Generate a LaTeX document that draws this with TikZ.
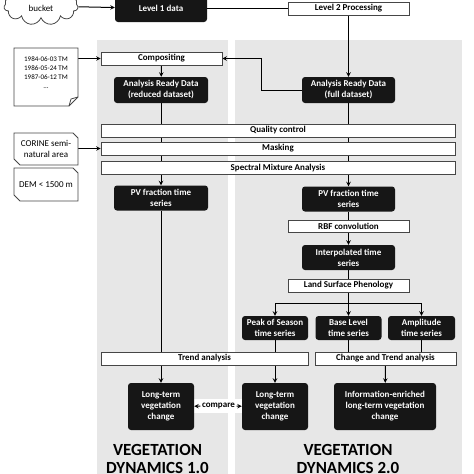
\documentclass[tikz,border=0pt]{standalone}
\usepackage{fontspec}
\setmainfont{Carlito}
\definecolor{panel}{RGB}{231,231,231}
\definecolor{boxblack}{RGB}{22,22,22}
\definecolor{edge}{RGB}{70,70,70}
\usetikzlibrary{shapes.symbols}
\usetikzlibrary{arrows.meta}
\pgfdeclarelayer{ln}
\pgfdeclarelayer{bg}
\pgfsetlayers{bg,ln,main}
\tikzset{
    darkbox/.style={fill=boxblack,rounded corners=3pt,text=white,align=center,
        inner sep=0pt,font=\fontsize{9}{11}\selectfont\bfseries},
    barbox/.style={draw=edge,fill=white,line width=0.7pt,inner sep=0pt,
        minimum height=13pt,font=\fontsize{9}{11}\selectfont\bfseries},
    card/.style={draw=edge,fill=white,line width=0.8pt},
    flow/.style={line width=1pt,-stealth},
    link/.style={line width=1pt}
}

\begin{document}
\begin{tikzpicture}[x=1pt,y=-1pt]
	\useasboundingbox (0,0) rectangle (474,474);
	\clip (0,0) rectangle (474,474);
	
	\begin{pgfonlayer}{bg}
		\fill[panel] (97,40) rectangle (228,480);
		\fill[panel] (235,40) rectangle (462,480);
	\end{pgfonlayer}
	
	% inputs
	\node[cloud,cloud puffs=11,cloud ignores aspect,draw=edge,line width=0.8pt,fill=white,
		minimum width=74pt,minimum height=38pt,font=\fontsize{9}{11}\selectfont] 
			(bucket) at (41,6) {};
	\node[font=\fontsize{9}{11}\selectfont] (buckettxt) at (41,8.5) {bucket};
	\node[darkbox,minimum width=92pt,minimum height=27pt] (lvlone) at (161,8.5) {Level 1 data};
	\node[barbox,minimum width=121pt] (lvltwo) at (348.5,8.5) {Level 2 Processing};
	
	\draw[card] (14,48) -- (78,48) -- (78,97) -- (69,106) -- (14,106) -- cycle;
	\draw[card,fill=none] (78,97) -- (71,99) -- (69,106);
	\node[align=center,font=\fontsize{7}{9}\selectfont,minimum width=64pt,inner sep=0pt] 
			(docs) at (46,73) {1984-06-03 TM\\1986-05-24 TM\\1987-06-12 TM\\\ldots};
	
	\draw[card] (14,133) -- (73,133) -- (78,138) -- (78,165) -- (20,165) -- (14,159) -- cycle;
	\node[align=center,font=\fontsize{9}{11}\selectfont,minimum width=64pt,inner sep=0pt] 
			(corine) at (46,149) {CORINE semi-\\natural area};
	\draw[card] (14,168) -- (73,168) -- (78,173) -- (78,201) -- (20,201) -- (14,195) -- cycle;
	\node[align=center,font=\fontsize{9}{11}\selectfont,minimum width=64pt,inner sep=0pt] 
			(dem) at (46,184.5) {DEM < 1500 m};
	
	% preprocessing
	\node[barbox,minimum width=121pt] (compo) at (161.5,58.5) {Compositing};
	\node[darkbox,minimum width=94pt,minimum height=26pt] (ardred) at (161,90) 
			{Analysis Ready Data\\(reduced dataset)};
	\node[darkbox,minimum width=93pt,minimum height=26pt] (ardfull) at (348.5,90) 
			{Analysis Ready Data\\(full dataset)};
	
	\node[barbox,minimum width=354pt] (qc) at (278,130.5) {Quality control};
	\node[barbox,minimum width=354pt] (mask) at (278,148.5) {Masking};
	\node[barbox,minimum width=354pt] (sma) at (278,168) {Spectral Mixture Analysis};
	
	\node[darkbox,minimum width=94pt,minimum height=25pt] (pvred) at (161,198) 
			{PV fraction time\\series};
	\node[darkbox,minimum width=93pt,minimum height=25pt] (pvfull) at (348.5,199) 
			{PV fraction time\\series};
	
	% dynamics 2.0
	\node[barbox,minimum width=121pt,minimum height=12pt] (rbf) at (348.5,226) {RBF convolution};
	\node[darkbox,minimum width=93pt,minimum height=25pt] (interp) at (348.5,257.5) 
			{Interpolated time\\series};
	\node[barbox,minimum width=121pt] (lsp) at (348.5,285.5) {Land Surface Phenology};
	\coordinate (fork) at (348.5,303);
	
	\node[darkbox,minimum width=66pt,minimum height=24pt] (pos) at (275,328) 
			{Peak of Season\\time series};
	\node[darkbox,minimum width=66pt,minimum height=24pt] (base) at (348.5,328) 
			{Base Level\\time series};
	\node[darkbox,minimum width=67pt,minimum height=24pt] (ampl) at (421.5,328) 
			{Amplitude\\time series};
	
	\node[barbox,minimum width=207pt] (trend) at (204.5,358.5) {Trend analysis};
	\node[barbox,minimum width=141pt] (ctrend) at (385.5,358.5) {Change and Trend analysis};
	
	% results
	\node[fill=white,minimum width=60pt,minimum height=14pt,inner sep=0pt] (cmpbg) at (218,406) {};
	\node[darkbox,minimum width=66pt,minimum height=47pt] (ltred) at (161,406.5) 
			{Long-term\\vegetation\\change};
	\node[darkbox,minimum width=66pt,minimum height=47pt] (ltfull) at (275,406.5) 
			{Long-term\\vegetation\\change};
	\node[darkbox,minimum width=102pt,minimum height=47pt] (enrich) at (385,406.5) 
			{Information-enriched\\long-term vegetation\\change};
	\node[font=\fontsize{9}{11}\selectfont\bfseries,inner sep=1.5pt] (cmp) at (218.5,406) {compare};
	
	\node[align=center,font=\fontsize{17}{18}\selectfont\bfseries] (titleone) at (157.5,459) 
			{VEGETATION\\DYNAMICS 1.0};
	\node[align=center,font=\fontsize{17}{18}\selectfont\bfseries] (titletwo) at (348,459) 
			{VEGETATION\\DYNAMICS 2.0};
	
	\begin{pgfonlayer}{ln}
		\draw[flow] (bucket) -- (lvlone);
		\draw[link] (lvlone) -- (lvltwo);
		\draw[flow] (lvltwo) -- (ardfull);
		\draw[flow] (docs.east |- compo.west) -- (compo.west);
		\draw[flow] (ardfull.west) -- ++(-40,0) |- (compo.east);
		\draw[flow] (compo) -- (ardred);
		\draw[flow] (corine.east |- mask.west) -- (mask.west);
		\draw[flow] (ardred) -- (pvred);
		\draw[flow] (ardfull) -- (pvfull);
		\draw[link] (pvfull) -- (rbf);
		\draw[flow] (rbf) -- (interp);
		\draw[link] (interp) -- (lsp);
		\draw[link] (lsp) -- (fork);
		\draw[flow] (fork) -| (pos.north);
		\draw[flow] (fork) -- (base.north);
		\draw[flow] (fork) -| (ampl.north);
		\draw[flow] (pvred) -- (ltred);
		\draw[flow] (pos) -- (ltfull);
		\draw[link] (base) -- (base |- ctrend.north);
		\draw[link] (ampl) -- (ampl |- ctrend.north);
		\draw[flow] (ctrend) -- (enrich);
	\end{pgfonlayer}
	\draw[flow] (cmp) -- (ltred);
	\draw[flow] (cmp) -- (ltfull);
\end{tikzpicture}
\end{document}
